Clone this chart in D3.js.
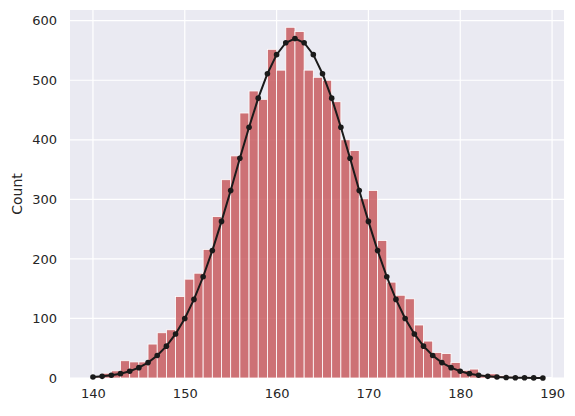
<!DOCTYPE html>
<html>
<head>
<meta charset="utf-8">
<script src="https://cdn.jsdelivr.net/npm/d3@7"></script>
<style>
  body { margin: 0; background: #fff; }
  text { font-family: "DejaVu Sans", sans-serif; }
</style>
</head>
<body>
<svg id="chart" width="575" height="416"></svg>
<script>
// Histogram bins (left edges, width 1) and counts
const bin_starts = d3.range(140, 190);
const bin_counts = [3, 8, 12, 29, 27, 27, 57, 76, 81, 137,
                    166, 176, 216, 271, 333, 373, 445, 482, 468, 552,
                    517, 589, 582, 517, 505, 500, 464, 400, 382, 301,
                    315, 231, 161, 139, 133, 89, 62, 43, 41, 26,
                    13, 15, 6, 7, 4, 3, 2, 2, 2, 1];

// Fitted curve points, one per integer
const curve_x = d3.range(140, 190);
const curve_y = [1.6, 2.8, 4.5, 7.3, 11.4, 17.4, 25.9, 37.7, 53.5, 74,
                 100, 132, 170, 214, 263, 315, 369, 421, 470, 511,
                 543, 563, 570, 563, 543, 511, 470, 421, 369, 315,
                 263, 214, 170, 132, 100, 74, 53.5, 37.7, 25.9, 17.4,
                 11.4, 7.3, 4.5, 2.8, 1.6, 0.9, 0.5, 0.3, 0.15, 0.08];

const x_ticks = [140, 150, 160, 170, 180, 190];
const y_ticks = [0, 100, 200, 300, 400, 500, 600];

const margin = {left: 70, right: 11, top: 10, bottom: 38};
const width = 575, height = 416;

const svg = d3.select("#chart");

const x = d3.scaleLinear().domain([137.5, 191.3]).range([margin.left, width - margin.right]);
const y = d3.scaleLinear().domain([0, 618]).range([height - margin.bottom, margin.top]);

// Background
svg.append("rect")
  .attr("x", margin.left).attr("y", margin.top)
  .attr("width", width - margin.left - margin.right)
  .attr("height", height - margin.top - margin.bottom)
  .attr("fill", "#eaeaf2");

// Grid
svg.append("g").selectAll("line").data(x_ticks).join("line")
  .attr("x1", d => x(d)).attr("x2", d => x(d))
  .attr("y1", margin.top).attr("y2", height - margin.bottom)
  .attr("stroke", "#fff").attr("stroke-width", 1.2);
svg.append("g").selectAll("line").data(y_ticks).join("line")
  .attr("x1", margin.left).attr("x2", width - margin.right)
  .attr("y1", d => y(d)).attr("y2", d => y(d))
  .attr("stroke", "#fff").attr("stroke-width", 1.2);

// Bars
svg.append("g").selectAll("rect").data(bin_starts).join("rect")
  .attr("x", d => x(d))
  .attr("width", d => x(d + 1) - x(d))
  .attr("y", (d, i) => y(bin_counts[i]))
  .attr("height", (d, i) => y(0) - y(bin_counts[i]))
  .attr("fill", "#c44e52").attr("fill-opacity", 0.78)
  .attr("stroke", "#fff").attr("stroke-width", 0.8);

// Curve
const pts = curve_x.map((d, i) => [d, curve_y[i]]);
svg.append("path")
  .datum(pts)
  .attr("d", d3.line().x(d => x(d[0])).y(d => y(d[1])))
  .attr("fill", "none").attr("stroke", "#1a1a1a").attr("stroke-width", 2);
svg.append("g").selectAll("circle").data(pts).join("circle")
  .attr("cx", d => x(d[0])).attr("cy", d => y(d[1])).attr("r", 2.8)
  .attr("fill", "#1a1a1a");

// Axes
const xAxis = svg.append("g")
  .attr("transform", `translate(0,${height - margin.bottom})`)
  .call(d3.axisBottom(x).tickValues(x_ticks).tickSize(0).tickPadding(11));
const yAxis = svg.append("g")
  .attr("transform", `translate(${margin.left},0)`)
  .call(d3.axisLeft(y).tickValues(y_ticks).tickSize(0).tickPadding(13));
[xAxis, yAxis].forEach(a => {
  a.select(".domain").remove();
  a.selectAll("text").attr("font-size", 13).attr("fill", "#262626");
});

svg.append("text")
  .attr("transform", `translate(22,${(margin.top + height - margin.bottom) / 2}) rotate(-90)`)
  .attr("text-anchor", "middle")
  .attr("font-size", 14).attr("fill", "#262626")
  .text("Count");
</script>
</body>
</html>
